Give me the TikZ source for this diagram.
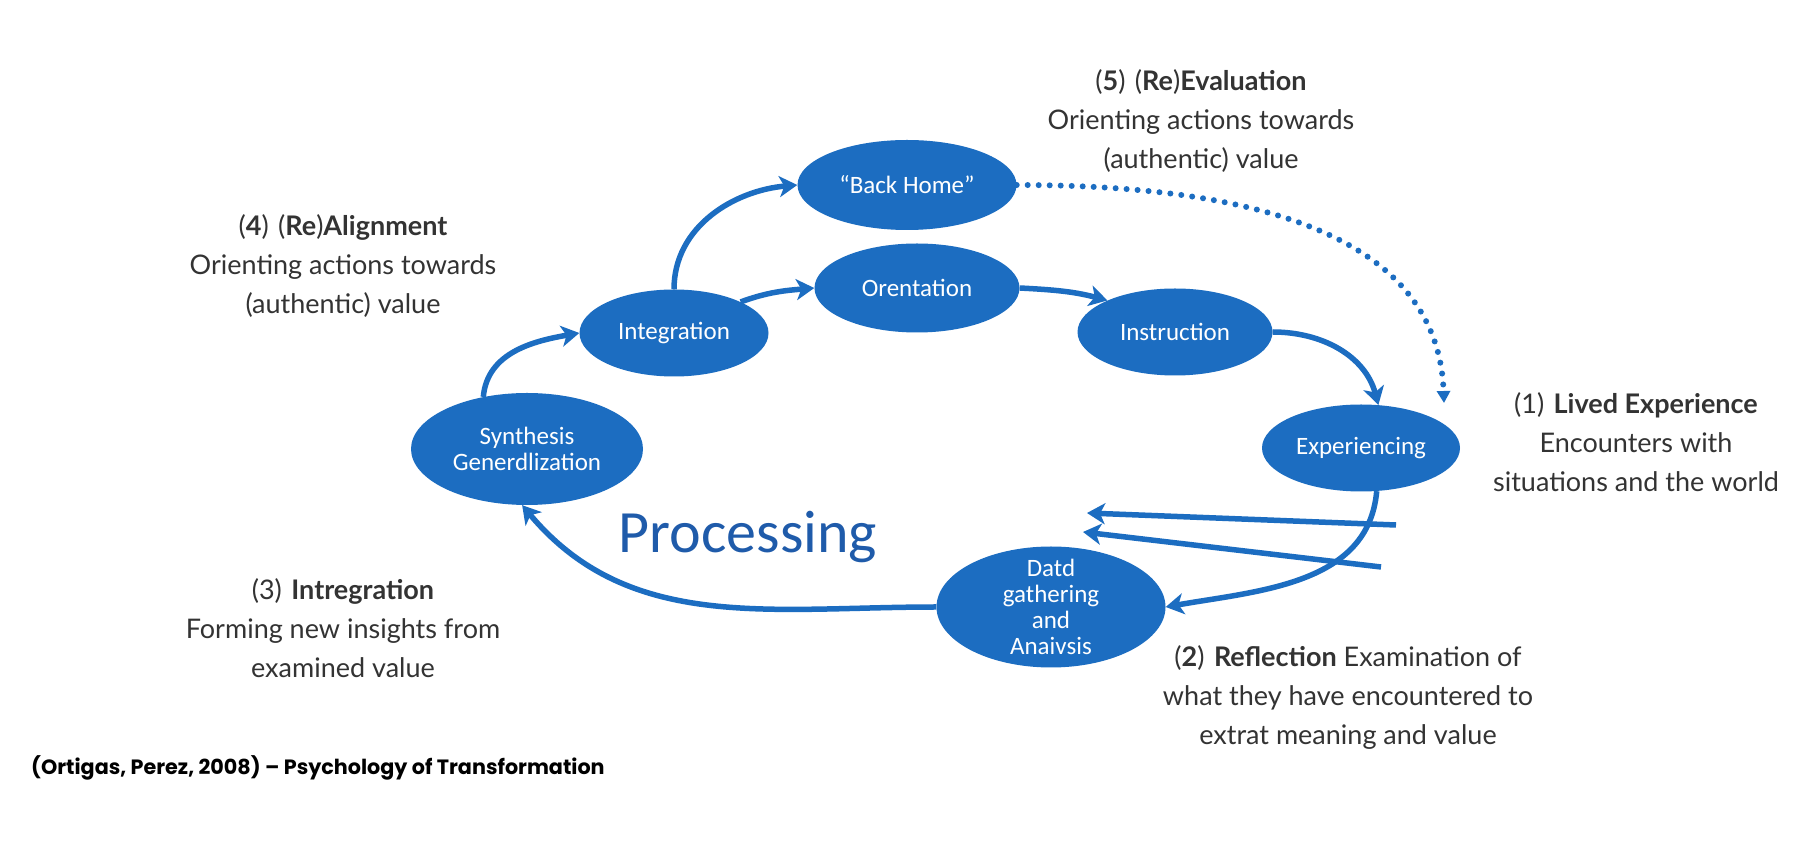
\documentclass[tikz,border=0pt]{standalone}
\usepackage{fontspec}
\setmainfont{Lato}
\newfontfamily\nodefont{Carlito}
\newfontfamily\citefont{Poppins}
\usetikzlibrary{shapes.geometric,arrows.meta}
\definecolor{cycleblue}{RGB}{28,109,193}
\definecolor{procblue}{RGB}{31,91,170}
\definecolor{notegray}{RGB}{51,51,51}
\tikzset{
	stage/.style={ellipse, fill=cycleblue, text=white, inner sep=0pt, align=center,
		font=\nodefont\fontsize{25}{26}\selectfont},
	flow/.style={cycleblue, line width=5.5pt, -{Stealth[length=18pt,width=21pt,inset=5pt]}},
	backflow/.style={cycleblue, line width=6pt, line cap=round, dash pattern=on 0pt off 11pt,
		-{Triangle[length=12pt,width=13pt]}},
	note/.style={align=center, text=notegray, font=\fontsize{27}{39}\selectfont}
}

\begin{document}
\begin{tikzpicture}[x=1pt,y=1pt]
		%			\draw [help lines, step=100] (0,0) grid (1807,862);
		\useasboundingbox [fill=white] (0,0) rectangle (1807,862);
		% the cycle
		\node [stage, minimum width=232pt, minimum height=112pt] (synth) at (527,413) {Synthesis\\Generdlization};
		\node [stage, minimum width=189pt, minimum height=87pt] (integ) at (674,529) {Integration};
		\node [stage, minimum width=219pt, minimum height=90pt] (home) at (907,677) {“Back Home”};
		\node [stage, minimum width=205pt, minimum height=89pt] (orient) at (917,574) {Orentation};
		\node [stage, minimum width=195pt, minimum height=87pt] (instr) at (1175,530) {Instruction};
		\node [stage, minimum width=198pt, minimum height=87pt] (exper) at (1361,414) {Experiencing};
		\node [stage, minimum width=229pt, minimum height=121pt, inner ysep=-9pt] (datd) at (1051,255) {Datd\\gathering\\and\\Anaivsis};
		\coordinate (homeend) at (1444,459);
		\coordinate (inA) at (1396,337);
		\coordinate (outA) at (1087,349);
		\coordinate (inB) at (1381,295);
		\coordinate (outB) at (1083,330);
		\draw [flow] (synth.130) to [out=85, in=190] (integ.west);
		\draw [flow] (integ.north) to [out=90, in=185] (home.west);
		\draw [flow] (integ.25) to [out=20, in=185] (orient.west);
		\draw [flow] (orient.east) to [out=-3, in=165] (instr.155);
		\draw [flow] (instr.east) to [out=0, in=105] (exper.68);
		\draw [backflow] (home.east) to [out=0, in=92] (homeend);
		\draw [flow] (exper.-70) to [out=-95, in=10] (datd.east);
		\draw [flow] (datd.west) to [out=180, in=-50] (synth.-95);
		\draw [flow] (inA) -- (outA);
		\draw [flow] (inB) -- (outB);
		\node [text=procblue, font=\nodefont\fontsize{60}{60}\selectfont] (proc) at (748,325) {Processing};
		% the five steps
		\node [note] (step5) at (1201,741) {(\textbf{5})\hspace{.35em}(\textbf{Re})\textbf{Evaluation}\\Orienting actions towards\\(authentic) value};
		\node [note] (step4) at (343,596) {(\textbf{4})\hspace{.35em}(\textbf{Re})\textbf{Alignment}\\Orienting actions towards\\(authentic) value};
		\node [note] (step1) at (1636,420) {(1)\hspace{.35em}\textbf{Lived Experience}\\Encounters with\\situations and the world};
		\node [note] (step3) at (343,234) {(3)\hspace{.35em}\textbf{Intregration}\\Forming new insights from\\examined value};
		\node [note] (step2) at (1348,165) {(\textbf{2})\hspace{.35em}\textbf{Reflection} Examination of\\what they have encountered to\\extrat meaning and value};
		\node [anchor=west, inner sep=0pt, font=\citefont\bfseries\fontsize{20.7}{24}\selectfont] (cite) at (31,94) {(Ortigas, Perez, 2008) – Psychology of Transformation};
	\end{tikzpicture}
\end{document}
